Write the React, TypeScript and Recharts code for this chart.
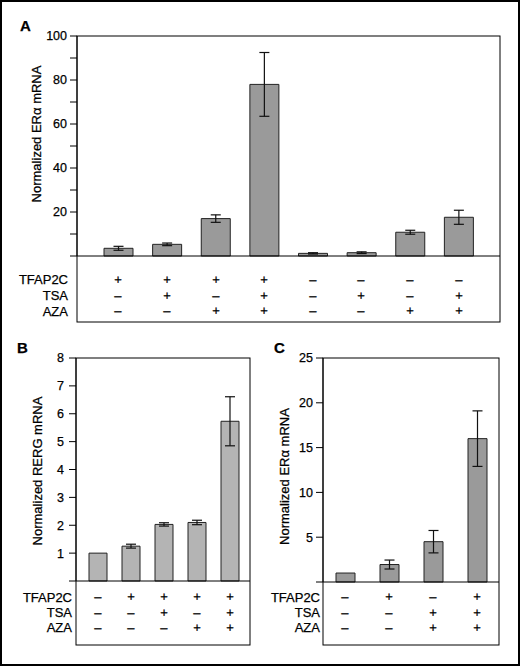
import React from 'react';
import { BarChart, Bar, XAxis, YAxis, ErrorBar } from 'recharts';

const FONT = '"Liberation Sans", Arial, Helvetica, sans-serif';
const PLUS = '+';
const MINUS = '\u2013';

// Panel A: ERα mRNA, TFAP2C/TSA/AZA combinations
const aTFAP2C = [PLUS, PLUS, PLUS, PLUS, MINUS, MINUS, MINUS, MINUS];
const aTSA = [MINUS, PLUS, MINUS, PLUS, MINUS, PLUS, MINUS, PLUS];
const aAZA = [MINUS, MINUS, PLUS, PLUS, MINUS, MINUS, PLUS, PLUS];
const aValues = [3.5, 5.3, 17.0, 78.0, 1.2, 1.5, 10.8, 17.6];
const aErrors = [0.9, 0.6, 1.7, 14.5, 0.3, 0.4, 0.9, 3.2];
const aTicks = [0, 10, 20, 30, 40, 50, 60, 70, 80, 90, 100];

// Panel B: RERG mRNA
const bTFAP2C = [MINUS, PLUS, PLUS, PLUS, PLUS];
const bTSA = [MINUS, MINUS, PLUS, MINUS, PLUS];
const bAZA = [MINUS, MINUS, MINUS, PLUS, PLUS];
const bValues = [1.0, 1.25, 2.03, 2.1, 5.73];
const bErrors = [0, 0.07, 0.06, 0.08, 0.88];
const bTicks = [0, 1, 2, 3, 4, 5, 6, 7, 8];

// Panel C: ERα mRNA
const cTFAP2C = [MINUS, PLUS, MINUS, PLUS];
const cTSA = [MINUS, MINUS, PLUS, PLUS];
const cAZA = [MINUS, MINUS, PLUS, PLUS];
const cValues = [1.0, 1.95, 4.5, 16.0];
const cErrors = [0, 0.5, 1.25, 3.1];
const cTicks = [0, 5, 10, 15, 20, 25];

const rowNames = ['TFAP2C', 'TSA', 'AZA'];

const buildData = (values: number[], errors: number[]) =>
  values.map((v, i) => ({ name: String(i), value: v, err: errors[i] }));

const ink = { fill: '#000', stroke: '#000', strokeWidth: 0.25 };

function TreatmentTick(props: any) {
  const { x, y, payload, rows, offsets } = props;
  const i = Number(payload.value);
  const cx = Math.round(x);
  return (
    <g transform={`rotate(0.05, ${cx}, ${Math.round(y)})`}>
      {rows.map((row: string[], r: number) => (
        <text
          key={r}
          x={cx}
          y={Math.round(y + offsets[r])}
          textAnchor="middle"
          fontSize={13}
          fontFamily={FONT}
          {...ink}
        >
          {row[i]}
        </text>
      ))}
    </g>
  );
}

interface PanelProps {
  left: number;
  top: number;
  width: number;
  height: number;
  margin: { top: number; right: number; bottom: number; left: number };
  yWidth: number;
  xHeight: number;
  domain: [number, number];
  ticks: number[];
  labelEvery: number;
  tickMargin: number;
  data: { name: string; value: number; err: number }[];
  rows: string[][];
  offsets: number[];
  fill: string;
  barSize: number;
  padding: { left: number; right: number };
}

function Panel(p: PanelProps) {
  return (
    <div style={{ position: 'absolute', left: p.left, top: p.top }}>
      <BarChart width={p.width} height={p.height} data={p.data} margin={p.margin}>
        <XAxis
          dataKey="name"
          height={p.xHeight}
          axisLine={{ stroke: '#000' }}
          tickLine={false}
          tickSize={0}
          tickMargin={0}
          padding={p.padding}
          interval={0}
          tick={<TreatmentTick rows={p.rows} offsets={p.offsets} />}
        />
        <YAxis
          width={p.yWidth}
          domain={p.domain}
          ticks={p.ticks}
          interval={0}
          axisLine={{ stroke: '#000' }}
          tickLine={{ stroke: '#000' }}
          tickSize={7}
          tickMargin={p.tickMargin}
          tickFormatter={(v: number) => (v !== 0 && v % p.labelEvery === 0 ? String(v) : '')}
          tick={{ fontSize: 12.5, fontFamily: FONT, ...ink }}
        />
        <Bar
          dataKey="value"
          fill={p.fill}
          stroke="#222"
          strokeWidth={1}
          barSize={p.barSize}
          isAnimationActive={false}
        >
          <ErrorBar dataKey="err" width={5} stroke="#111" strokeWidth={1.2} />
        </Bar>
      </BarChart>
    </div>
  );
}

export default function App() {
  const aRows = [aTFAP2C, aTSA, aAZA];
  const bRows = [bTFAP2C, bTSA, bAZA];
  const cRows = [cTFAP2C, cTSA, cAZA];

  const textStyle = { fontFamily: FONT, ...ink };

  return (
    <div style={{ position: 'absolute', left: 0, top: 0, width: 520, height: 666, background: '#fff' }}>
      <Panel
        left={0}
        top={0}
        width={520}
        height={322}
        margin={{ top: 36, right: 20, bottom: 0, left: 0 }}
        yWidth={77}
        xHeight={66}
        domain={[0, 100]}
        ticks={aTicks}
        labelEvery={20}
        tickMargin={3}
        data={buildData(aValues, aErrors)}
        rows={aRows}
        offsets={[28, 44, 59]}
        fill="#9a9a9a"
        barSize={29}
        padding={{ left: 17, right: 17 }}
      />
      <Panel
        left={0}
        top={330}
        width={260}
        height={315}
        margin={{ top: 28, right: 10, bottom: 0, left: 0 }}
        yWidth={76}
        xHeight={64}
        domain={[0, 8]}
        ticks={bTicks}
        labelEvery={1}
        tickMargin={5}
        data={buildData(bValues, bErrors)}
        rows={bRows}
        offsets={[20, 36, 51]}
        fill="#b4b4b4"
        barSize={18}
        padding={{ left: 5, right: 4 }}
      />
      <Panel
        left={260}
        top={330}
        width={260}
        height={315}
        margin={{ top: 28, right: 21, bottom: 0, left: 0 }}
        yWidth={63}
        xHeight={63}
        domain={[0, 25]}
        ticks={cTicks}
        labelEvery={5}
        tickMargin={3}
        data={buildData(cValues, cErrors)}
        rows={cRows}
        offsets={[19, 35, 50]}
        fill="#9a9a9a"
        barSize={19}
        padding={{ left: 0, right: 0 }}
      />
      <svg
        width={520}
        height={666}
        style={{ position: 'absolute', left: 0, top: 0, pointerEvents: 'none' }}
      >
        <rect x={1} y={1} width={518} height={664} fill="none" stroke="#000" strokeWidth={2} />
        <rect x={77} y={36} width={423} height={286} fill="none" stroke="#000" strokeWidth={1} />
        <rect x={76} y={358} width={174} height={287} fill="none" stroke="#000" strokeWidth={1} />
        <rect x={323} y={358} width={176} height={287} fill="none" stroke="#000" strokeWidth={1} />

        <text x={20} y={31} fontSize={15} fontWeight="bold" {...textStyle}>A</text>
        <text x={17} y={353} fontSize={15} fontWeight="bold" {...textStyle}>B</text>
        <text x={274} y={353} fontSize={15} fontWeight="bold" {...textStyle}>C</text>

        <text x={41} y={134} fontSize={13} textAnchor="middle" transform="rotate(-90, 41, 134)" {...textStyle}>
          Normalized ERα mRNA
        </text>
        <text x={41.5} y={471} fontSize={13} textAnchor="middle" transform="rotate(-90, 41.5, 471)" {...textStyle}>
          Normalized RERG mRNA
        </text>
        <text x={289} y={476.5} fontSize={13} textAnchor="middle" transform="rotate(-90, 289, 476.5)" {...textStyle}>
          Normalized ERα mRNA
        </text>

        {rowNames.map((n, i) => (
          <text key={'a' + n} x={68} y={[284, 300, 316][i]} fontSize={13} textAnchor="end" {...textStyle}>
            {n}
          </text>
        ))}
        {rowNames.map((n, i) => (
          <text key={'b' + n} x={72} y={[602, 617, 632][i]} fontSize={13} textAnchor="end" {...textStyle}>
            {n}
          </text>
        ))}
        {rowNames.map((n, i) => (
          <text key={'c' + n} x={320} y={[602, 617, 632][i]} fontSize={13} textAnchor="end" {...textStyle}>
            {n}
          </text>
        ))}
      </svg>
    </div>
  );
}
